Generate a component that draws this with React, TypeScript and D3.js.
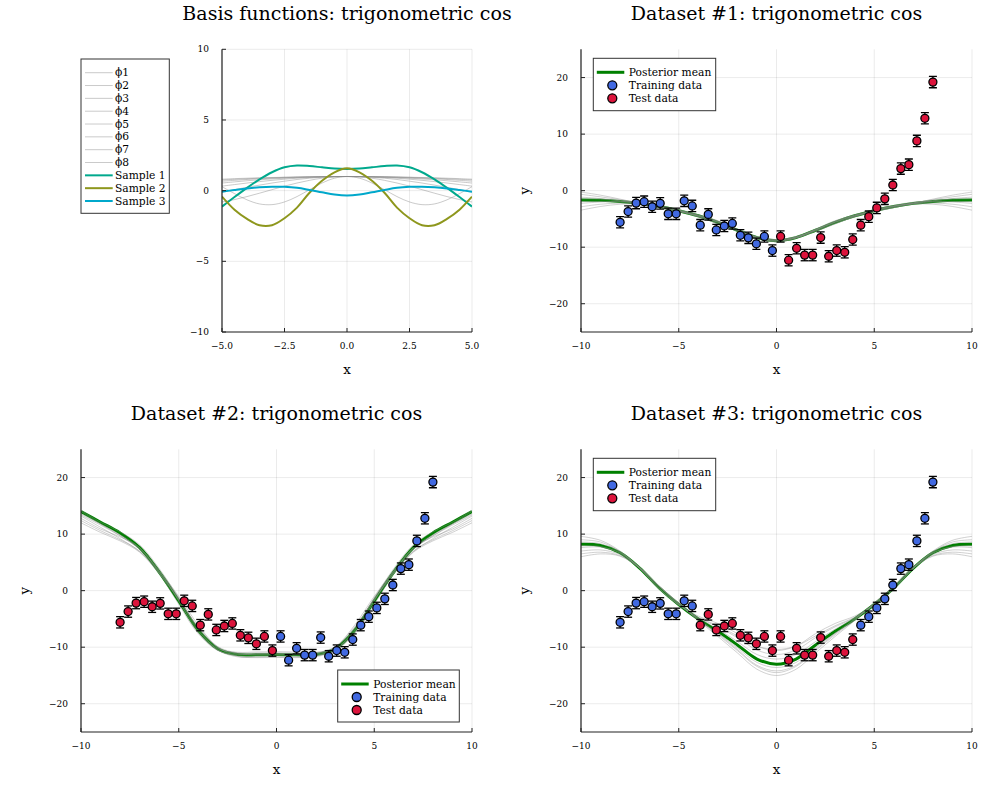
import React from 'react';
import * as d3 from 'd3';

const FONT = "'DejaVu Serif', serif";

// ---------- basis function panel ----------
const basisX = [-5,-4.5,-4,-3.5,-3,-2.5,-2,-1.5,-1,-0.5,0,0.5,1,1.5,2,2.5,3,3.5,4,4.5,5];
const phi1 = [0.28,-0.21,-0.65,-0.94,-0.99,-0.80,-0.42,0.07,0.54,0.88,1.00,0.88,0.54,0.07,-0.42,-0.80,-0.99,-0.94,-0.65,-0.21,0.28];
const phi2 = [-0.80,-0.63,-0.42,-0.18,0.07,0.32,0.54,0.73,0.88,0.97,1.00,0.97,0.88,0.73,0.54,0.32,0.07,-0.18,-0.42,-0.63,-0.80];
const phi3 = [-0.10,0.07,0.24,0.39,0.54,0.67,0.79,0.88,0.95,0.99,1.00,0.99,0.95,0.88,0.79,0.67,0.54,0.39,0.24,0.07,-0.10];
const phi4 = [0.32,0.43,0.54,0.64,0.73,0.81,0.88,0.93,0.97,0.99,1.00,0.99,0.97,0.93,0.88,0.81,0.73,0.64,0.54,0.43,0.32];
const phi5 = [0.54,0.62,0.70,0.77,0.83,0.88,0.92,0.96,0.98,1.00,1.00,1.00,0.98,0.96,0.92,0.88,0.83,0.77,0.70,0.62,0.54];
const phi6 = [0.67,0.73,0.79,0.84,0.88,0.91,0.95,0.97,0.99,1.00,1.00,1.00,0.99,0.97,0.95,0.91,0.88,0.84,0.79,0.73,0.67];
const phi7 = [0.76,0.80,0.84,0.88,0.91,0.94,0.96,0.98,0.99,1.00,1.00,1.00,0.99,0.98,0.96,0.94,0.91,0.88,0.84,0.80,0.76];
const phi8 = [0.81,0.85,0.88,0.91,0.93,0.95,0.97,0.98,0.99,1.00,1.00,1.00,0.99,0.98,0.97,0.95,0.93,0.91,0.88,0.85,0.81];
const basisNames = ['ϕ1','ϕ2','ϕ3','ϕ4','ϕ5','ϕ6','ϕ7','ϕ8'];
const sample1 = [-1.13,-0.45,0.2,0.8,1.3,1.65,1.78,1.74,1.65,1.56,1.53,1.56,1.65,1.74,1.78,1.65,1.3,0.8,0.2,-0.45,-1.13];
const sample2 = [-0.42,-1.35,-2.0,-2.45,-2.45,-1.95,-1.2,-0.15,0.7,1.3,1.58,1.3,0.7,-0.15,-1.2,-1.95,-2.45,-2.45,-2.0,-1.35,-0.42];
const sample3 = [-0.07,0.05,0.16,0.24,0.28,0.27,0.2,0.05,-0.12,-0.28,-0.35,-0.28,-0.12,0.05,0.2,0.27,0.28,0.24,0.16,0.05,-0.07];
const sampleNames = ['Sample 1','Sample 2','Sample 3'];
const sampleColors = ['#00A98D','#8E971D','#00A8CB'];

// ---------- datasets ----------
const pointX = [-8.00,-7.59,-7.18,-6.77,-6.36,-5.95,-5.54,-5.13,-4.72,-4.31,-3.90,-3.49,-3.08,-2.67,-2.26,-1.85,-1.44,-1.03,-0.62,-0.21,0.21,0.62,1.03,1.44,1.85,2.26,2.67,3.08,3.49,3.90,4.31,4.72,5.13,5.54,5.95,6.36,6.77,7.18,7.59,8.00];
const pointY = [-5.6,-3.7,-2.2,-1.95,-2.85,-2.25,-4.1,-4.1,-1.8,-2.7,-6.1,-4.2,-6.95,-6.25,-5.8,-7.9,-8.35,-9.4,-8.1,-10.6,-8.1,-12.3,-10.2,-11.4,-11.4,-8.3,-11.6,-10.6,-10.9,-8.65,-6.1,-4.6,-3.05,-1.45,1.0,3.9,4.6,8.8,12.8,19.2];
const pointErr = 1;
// 1 = training, 0 = test
const ds1Train = [1,1,1,1,1,1,1,1,1,1,1,1,1,1,1,1,1,1,1,1,0,0,0,0,0,0,0,0,0,0,0,0,0,0,0,0,0,0,0,0];
const ds2Train = [0,0,0,0,0,0,0,0,0,0,0,0,0,0,0,0,0,0,0,0,1,1,1,1,1,1,1,1,1,1,1,1,1,1,1,1,1,1,1,1];
const ds3Train = [1,1,1,1,1,1,1,1,1,1,0,0,0,0,0,0,0,0,0,0,0,0,0,0,0,0,0,0,0,0,1,1,1,1,1,1,1,1,1,1];

const curveX = [-10,-9,-8,-7,-6,-5,-4,-3,-2,-1,0,1,2,3,4,5,6,7,8,9,10];
const ds1Mean = [-1.65,-1.7,-1.9,-2.25,-2.8,-3.55,-4.45,-5.6,-7.0,-8.3,-8.85,-8.3,-7.0,-5.6,-4.45,-3.55,-2.8,-2.25,-1.9,-1.7,-1.65];
const ds2Mean = [14.0,12.1,10.2,7.6,3.3,-1.8,-7.0,-10.3,-11.3,-11.35,-11.3,-11.35,-11.3,-10.3,-7.0,-1.8,3.3,7.6,10.2,12.1,14.0];
const ds3Mean = [8.2,8.0,6.7,4.0,0.5,-2.45,-5.0,-7.2,-9.6,-12.1,-13.0,-12.1,-9.6,-7.2,-5.0,-2.45,0.5,4.0,6.7,8.0,8.2];

// posterior samples, as offsets from the mean
const ds1Dev = [
  [1.0,0.6,0.3,0.1,0.0,0.1,0.2,0.2,0.1,0.0,-0.1,0.0,0.1,0.2,0.2,0.1,0.0,0.1,0.3,0.6,1.0],
  [-1.2,-0.7,-0.3,-0.1,0.0,-0.1,-0.2,-0.2,-0.1,0.0,0.1,0.0,-0.1,-0.2,-0.2,-0.1,0.0,-0.1,-0.3,-0.7,-1.2],
  [0.5,0.3,0.1,-0.1,-0.2,-0.1,0.1,0.3,0.2,0.1,0.1,0.1,0.2,0.3,0.1,-0.1,-0.2,-0.1,0.1,0.3,0.5],
  [-0.6,-0.3,0.0,0.2,0.2,0.1,-0.1,-0.3,-0.2,-0.1,-0.1,-0.1,-0.2,-0.3,-0.1,0.1,0.2,0.2,0.0,-0.3,-0.6],
  [1.4,0.9,0.4,0.0,-0.2,-0.2,0.0,0.1,0.0,-0.1,-0.2,-0.1,0.0,0.1,0.0,-0.2,-0.2,0.0,0.4,0.9,1.4],
  [-1.8,-1.1,-0.5,-0.1,0.1,0.2,0.1,0.0,0.0,0.1,0.2,0.1,0.0,0.0,0.1,0.2,0.1,-0.1,-0.5,-1.1,-1.8],
  [0.2,0.2,0.1,0.1,0.0,0.0,0.0,0.1,0.1,0.0,0.0,0.0,0.1,0.1,0.0,0.0,0.0,0.1,0.1,0.2,0.2],
  [-0.3,-0.2,-0.1,0.0,0.1,0.0,-0.1,0.0,0.1,0.2,0.2,0.2,0.1,0.0,-0.1,0.0,0.1,0.0,-0.1,-0.2,-0.3],
];
const ds2Dev = [
  [0.2,0.0,0.2,0.5,0.6,0.5,0.0,-0.2,-0.2,-0.2,-0.2,-0.2,-0.2,-0.2,0.0,0.5,0.6,0.5,0.2,0.0,0.2],
  [-0.8,-0.9,-1.0,-0.7,-0.2,0.3,0.4,0.2,0.1,0.1,0.1,0.1,0.1,0.2,0.4,0.3,-0.2,-0.7,-1.0,-0.9,-0.8],
  [-1.6,-1.5,-1.2,-0.6,0.0,0.5,0.3,-0.2,-0.4,-0.4,-0.4,-0.4,-0.4,-0.2,0.3,0.5,0.0,-0.6,-1.2,-1.5,-1.6],
  [-2.0,-1.8,-1.4,-0.8,-0.3,0.2,0.6,0.4,0.3,0.3,0.3,0.3,0.3,0.4,0.6,0.2,-0.3,-0.8,-1.4,-1.8,-2.0],
  [-0.4,-0.3,-0.3,0.0,0.3,0.0,-0.5,-0.3,0.0,0.2,0.2,0.2,0.0,-0.3,-0.5,0.0,0.3,0.0,-0.3,-0.3,-0.4],
  [-1.2,-1.2,-0.7,0.0,-0.2,-0.6,-0.6,0.0,0.4,0.5,0.5,0.5,0.4,0.0,-0.6,-0.6,-0.2,0.0,-0.7,-1.2,-1.2],
  [0.0,-0.3,-0.5,-0.3,0.2,0.8,0.9,0.3,-0.3,-0.5,-0.5,-0.5,-0.3,0.3,0.9,0.8,0.2,-0.3,-0.5,-0.3,0.0],
  [-0.6,-0.5,-0.5,-0.2,0.1,0.0,-0.2,0.1,0.2,0.0,0.0,0.0,0.2,0.1,-0.2,0.0,0.1,-0.2,-0.5,-0.5,-0.6],
];
const ds3Dev = [
  [1.4,0.9,0.3,0.0,-0.2,-0.1,0.3,1.0,1.6,2.3,2.6,2.3,1.6,1.0,0.3,-0.1,-0.2,0.0,0.3,0.9,1.4],
  [-2.2,-1.5,-0.6,0.0,0.3,0.2,-0.3,-0.9,-1.4,-1.8,-2.0,-1.8,-1.4,-0.9,-0.3,0.2,0.3,0.0,-0.6,-1.5,-2.2],
  [0.8,0.6,0.2,0.0,-0.1,0.0,0.5,1.4,2.0,2.3,2.4,2.3,2.0,1.4,0.5,0.0,-0.1,0.0,0.2,0.6,0.8],
  [-1.2,-0.8,-0.3,0.1,0.3,0.2,-0.2,-0.6,-1.0,-1.3,-1.5,-1.3,-1.0,-0.6,-0.2,0.2,0.3,0.1,-0.3,-0.8,-1.2],
  [-0.6,-0.3,0.0,0.2,0.2,0.0,0.2,0.8,1.3,1.6,1.7,1.6,1.3,0.8,0.2,0.0,0.2,0.2,0.0,-0.3,-0.6],
  [-1.7,-1.2,-0.5,0.0,0.3,0.3,0.0,-0.4,-0.8,-1.1,-1.2,-1.1,-0.8,-0.4,0.0,0.3,0.3,0.0,-0.5,-1.2,-1.7],
  [0.4,0.3,0.1,-0.1,-0.2,-0.1,0.1,0.4,0.6,0.8,0.9,0.8,0.6,0.4,0.1,-0.1,-0.2,-0.1,0.1,0.3,0.4],
  [-0.3,-0.2,-0.1,0.1,0.2,0.1,-0.1,-0.3,-0.5,-0.6,-0.6,-0.6,-0.5,-0.3,-0.1,0.1,0.2,0.1,-0.1,-0.2,-0.3],
];

const dsXTicks = [-10,-5,0,5,10];
const dsYTicks = [-20,-10,0,10,20];
const basisXTicks = [-5,-2.5,0,2.5,5];
const basisYTicks = [-10,-5,0,5,10];
const legendLabels = ['Posterior mean','Training data','Test data'];

const TRAIN_COLOR = '#4169E1';
const TEST_COLOR = '#DC143C';
const MEAN_COLOR = '#008000';

const minus = (s: string) => s.replace('-', '\u2212');

type Box = { l: number; r: number; t: number; b: number };

function Frame({ id, box, x, y, xTicks, yTicks, title, yLabel }: any) {
  return (
    <g>
      <defs>
        <clipPath id={id}>
          <rect x={box.l} y={box.t} width={box.r - box.l} height={box.b - box.t} />
        </clipPath>
      </defs>
      {xTicks.map((t: number) => (
        <line key={'gx' + t} x1={x(t)} x2={x(t)} y1={box.t} y2={box.b} stroke="#000" strokeOpacity={0.1} strokeWidth={0.8} />
      ))}
      {yTicks.map((t: number) => (
        <line key={'gy' + t} x1={box.l} x2={box.r} y1={y(t)} y2={y(t)} stroke="#000" strokeOpacity={0.1} strokeWidth={0.8} />
      ))}
      <text x={(box.l + box.r) / 2} y={box.t - 29} textAnchor="middle" fontFamily={FONT} fontSize={19}>{title}</text>
      <text x={(box.l + box.r) / 2} y={box.b + 42} textAnchor="middle" fontFamily={FONT} fontSize={13.5}>x</text>
      {yLabel && (
        <text transform={`translate(${box.l - 57},${(box.t + box.b) / 2}) rotate(-90)`} textAnchor="middle" fontFamily={FONT} fontSize={13.5} dominantBaseline="central">y</text>
      )}
    </g>
  );
}

function AxisLines({ box, x, y, xTicks, yTicks, xFmt, yFmt }: any) {
  return (
    <g>
      <line x1={box.l} x2={box.r} y1={box.b} y2={box.b} stroke="#222" strokeWidth={1.2} />
      <line x1={box.l} x2={box.l} y1={box.t} y2={box.b} stroke="#222" strokeWidth={1.2} />
      {xTicks.map((t: number) => (
        <g key={'tx' + t}>
          <line x1={x(t)} x2={x(t)} y1={box.b} y2={box.b - 4} stroke="#222" strokeWidth={1} />
          <text x={x(t)} y={box.b + 17} textAnchor="middle" fontFamily={FONT} fontSize={9}>{xFmt(t)}</text>
        </g>
      ))}
      {yTicks.map((t: number) => (
        <g key={'ty' + t}>
          <line x1={box.l} x2={box.l + 4} y1={y(t)} y2={y(t)} stroke="#222" strokeWidth={1} />
          <text x={box.l - 13} y={y(t)} textAnchor="end" dominantBaseline="central" fontFamily={FONT} fontSize={9}>{yFmt(t)}</text>
        </g>
      ))}
    </g>
  );
}

function BasisPanel() {
  const box: Box = { l: 222, r: 472, t: 49.3, b: 332 };
  const x = d3.scaleLinear().domain([-5, 5]).range([box.l, box.r]);
  const y = d3.scaleLinear().domain([-10, 10]).range([box.b, box.t]);
  const line = d3.line<number>().x((_, i) => x(basisX[i])).y((d) => y(d)).curve(d3.curveCatmullRom.alpha(0.5));
  const basis = [phi1, phi2, phi3, phi4, phi5, phi6, phi7, phi8];
  const samples = [sample1, sample2, sample3];
  const xFmt = (t: number) => minus(t.toFixed(1));
  const yFmt = (t: number) => minus(String(t));
  const lg = { l: 81, t: 59, w: 88.3, h: 154.3 };
  const rowY = (i: number) => 72.7 + i * 12.83;
  return (
    <g>
      <Frame id="clipTL" box={box} x={x} y={y} xTicks={basisXTicks} yTicks={basisYTicks} title="Basis functions: trigonometric cos" />
      <g clipPath="url(#clipTL)">
        {basis.map((b, i) => (
          <path key={'b' + i} d={line(b) || ''} fill="none" stroke="#8a8a8a" strokeOpacity={0.45} strokeWidth={1} />
        ))}
        {samples.map((s, i) => (
          <path key={'s' + i} d={line(s) || ''} fill="none" stroke={sampleColors[i]} strokeWidth={2} />
        ))}
      </g>
      <AxisLines box={box} x={x} y={y} xTicks={basisXTicks} yTicks={basisYTicks} xFmt={xFmt} yFmt={yFmt} />
      <rect x={lg.l} y={lg.t} width={lg.w} height={lg.h} fill="#fff" stroke="#333" strokeWidth={1} />
      {basisNames.map((n, i) => (
        <g key={'lb' + i}>
          <line x1={85} x2={112.7} y1={rowY(i)} y2={rowY(i)} stroke="#8a8a8a" strokeOpacity={0.45} strokeWidth={1} />
          <text x={115} y={rowY(i)} dominantBaseline="central" fontFamily={FONT} fontSize={10.7}>{n}</text>
        </g>
      ))}
      {sampleNames.map((n, i) => (
        <g key={'ls' + i}>
          <line x1={85} x2={112.7} y1={rowY(i + 8)} y2={rowY(i + 8)} stroke={sampleColors[i]} strokeWidth={2} />
          <text x={115} y={rowY(i + 8)} dominantBaseline="central" fontFamily={FONT} fontSize={10.7}>{n}</text>
        </g>
      ))}
    </g>
  );
}

function DataPanel({ id, box, title, mean, dev, train, legend }: any) {
  const x = d3.scaleLinear().domain([-10, 10]).range([box.l, box.r]);
  const y = d3.scaleLinear().domain([-25, 25]).range([box.b, box.t]);
  const line = d3.line<number>().x((_, i) => x(curveX[i])).y((d) => y(d)).curve(d3.curveCatmullRom.alpha(0.5));
  const fmt = (t: number) => minus(String(t));
  return (
    <g>
      <Frame id={id} box={box} x={x} y={y} xTicks={dsXTicks} yTicks={dsYTicks} title={title} yLabel />
      <g clipPath={`url(#${id})`}>
        <path d={line(mean) || ''} fill="none" stroke={MEAN_COLOR} strokeWidth={3} />
        {dev.map((dv: number[], k: number) => (
          <path key={'smp' + k} d={line(mean.map((m: number, i: number) => m + dv[i])) || ''} fill="none" stroke="#8c8c8c" strokeOpacity={0.4} strokeWidth={1} />
        ))}
        {pointX.map((px, i) => {
          const cx = x(px);
          const y1 = y(pointY[i] + pointErr);
          const y0 = y(pointY[i] - pointErr);
          return (
            <g key={'e' + i} stroke="#000" strokeWidth={1.3}>
              <line x1={cx} x2={cx} y1={y0} y2={y1} />
              <line x1={cx - 4} x2={cx + 4} y1={y0} y2={y0} />
              <line x1={cx - 4} x2={cx + 4} y1={y1} y2={y1} />
            </g>
          );
        })}
        {pointX.map((px, i) => (
          <circle key={'p' + i} cx={x(px)} cy={y(pointY[i])} r={4} fill={train[i] ? TRAIN_COLOR : TEST_COLOR} stroke="#000" strokeWidth={1.3} />
        ))}
      </g>
      <AxisLines box={box} x={x} y={y} xTicks={dsXTicks} yTicks={dsYTicks} xFmt={fmt} yFmt={fmt} />
      <rect x={legend.l} y={legend.t} width={legend.w} height={legend.h} fill="#fff" stroke="#333" strokeWidth={1} />
      {legendLabels.map((lab, i) => {
        const ly = legend.t + 14 + i * 13;
        return (
          <g key={'lg' + i}>
            {i === 0 ? (
              <line x1={legend.l + 3.5} x2={legend.l + 31} y1={ly} y2={ly} stroke={MEAN_COLOR} strokeWidth={3} />
            ) : (
              <circle cx={legend.l + 19} cy={ly} r={4.5} fill={i === 1 ? TRAIN_COLOR : TEST_COLOR} stroke="#000" strokeWidth={1.3} />
            )}
            <text x={legend.l + 35.5} y={ly} dominantBaseline="central" fontFamily={FONT} fontSize={10.7}>{lab}</text>
          </g>
        );
      })}
    </g>
  );
}

export default function App() {
  return (
    <svg width={1000} height={800} style={{ position: 'absolute', left: 0, top: 0, background: '#fff' }} xmlns="http://www.w3.org/2000/svg">
      <rect x={0} y={0} width={1000} height={800} fill="#fff" />
      <BasisPanel />
      <DataPanel id="clipTR" box={{ l: 581, r: 972, t: 49.3, b: 332 }} title="Dataset #1: trigonometric cos"
        mean={ds1Mean} dev={ds1Dev} train={ds1Train} legend={{ l: 593.3, t: 58.3, w: 122.4, h: 52.4 }} />
      <DataPanel id="clipBL" box={{ l: 81, r: 472, t: 449.3, b: 732 }} title="Dataset #2: trigonometric cos"
        mean={ds2Mean} dev={ds2Dev} train={ds2Train} legend={{ l: 337.7, t: 670, w: 121.6, h: 52 }} />
      <DataPanel id="clipBR" box={{ l: 581, r: 972, t: 449.3, b: 732 }} title="Dataset #3: trigonometric cos"
        mean={ds3Mean} dev={ds3Dev} train={ds3Train} legend={{ l: 593.3, t: 458.3, w: 122.4, h: 52.4 }} />
    </svg>
  );
}
